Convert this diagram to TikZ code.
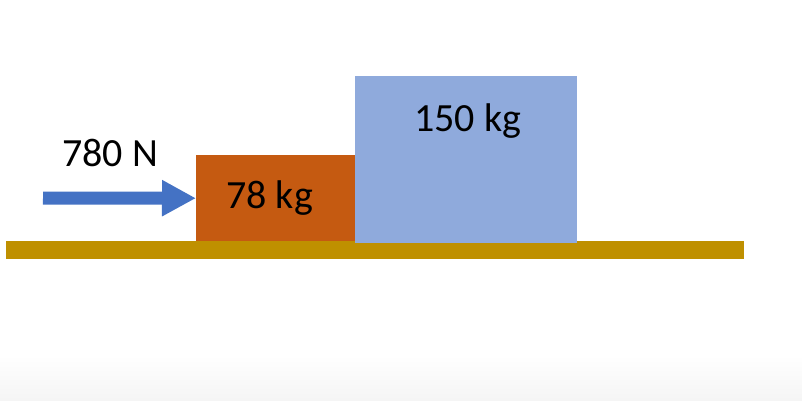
\documentclass[tikz,border=0pt]{standalone}
\usepackage{fontspec}
\setmainfont{Carlito}
\usetikzlibrary{arrows.meta}
\definecolor{arrowblue}{HTML}{4472C4}
\definecolor{boxorange}{HTML}{C55A11}
\definecolor{boxblue}{HTML}{8FAADC}
\definecolor{floorgold}{HTML}{BF9000}
\tikzset{
  block/.style={rectangle, inner sep=0pt, draw=none},
  lbl/.style={inner sep=0pt, anchor=base west, font=\fontsize{40}{48}\selectfont, text=black},
}
\begin{document}
\begin{tikzpicture}[x=1pt,y=-1pt]
\useasboundingbox (0,0) rectangle (802,401);
\fill[white] (0,0) rectangle (802,401);
\shade[top color=white, bottom color=black!4] (0,355) rectangle (802,401);
% floor
\node[block, fill=floorgold, minimum width=738pt, minimum height=18pt, anchor=north west] (floor) at (6,241) {};
% blocks
\node[block, fill=boxorange, minimum width=159pt, minimum height=86pt, anchor=north west] (small) at (196,155) {};
\node[block, fill=boxblue, minimum width=222pt, minimum height=167pt, anchor=north west] (big) at (355,76) {};
% labels
\node[lbl] (smalllbl) at (226,208) {78 kg};
\node[lbl] (biglbl) at (414,131) {150 kg};
\node[lbl] (forcelbl) at (62,166) {780 N};
% force arrow
\coordinate (fstart) at (43,198);
\draw[arrowblue, line width=13pt, -{Triangle[length=34pt 0 0, width=34pt 0 0]}] (fstart) -- (small.west);
\end{tikzpicture}
\end{document}
